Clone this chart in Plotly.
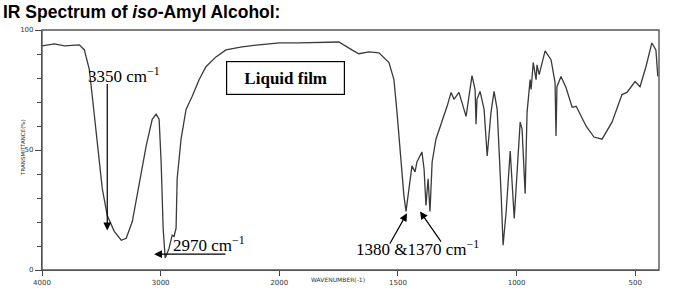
import plotly.graph_objects as go

# ---- data (wavenumber cm-1, % transmittance) ----
wavenumber = [4000, 3895, 3811, 3685, 3643, 3601, 3576, 3534, 3492, 3450, 3391, 3332, 3290,
              3239, 3181, 3122, 3071, 3038, 3013, 2996, 2979, 2962, 2945, 2929, 2903, 2887,
              2870, 2861, 2828, 2786, 2735, 2676, 2618, 2534, 2450, 2315, 2172, 2000,
              1918, 1749, 1694, 1665, 1622, 1580, 1538, 1517, 1504, 1487, 1475, 1466, 1453,
              1441, 1428, 1420, 1399, 1390, 1382, 1373, 1365, 1356, 1340, 1314, 1293, 1276,
              1264, 1243, 1213, 1188, 1175, 1171, 1167, 1154, 1137, 1124, 1108, 1095, 1082,
              1065, 1057, 1044, 1027, 1010, 985, 977, 964, 956, 943, 939, 930, 918, 914, 905,
              880, 855, 838, 834, 830, 813, 792, 766, 749, 707, 674, 640, 598, 556, 535, 501,
              480, 455, 430, 413, 405]
transmittance = [93.4, 94.2, 93.4, 93.8, 91.7, 83.5, 72.3, 51.7, 33.9, 22.7, 16.1, 12.4, 13.2,
                 20.2, 35.1, 51.7, 62.8, 64.9, 62.8, 45.0, 17.4, 5.0, 7.0, 9.1, 14.5, 14.0,
                 17.4, 38.0, 54.5, 66.9, 72.3, 79.3, 84.7, 88.8, 91.7, 93.0, 93.8, 94.6,
                 94.6, 95.0, 91.7, 90.1, 90.9, 90.5, 86.4, 79.3, 65.7, 45.0, 31.0, 24.4, 33.9,
                 43.4, 40.9, 45.0, 49.2, 42.1, 26.9, 38.0, 24.4, 45.0, 54.5, 61.6, 68.2, 74.0,
                 71.1, 74.0, 64.0, 81.0, 75.2, 60.7, 71.1, 74.4, 66.9, 47.5, 65.7, 74.4, 66.9,
                 31.0, 10.3, 24.4, 49.6, 21.5, 61.6, 58.7, 31.8, 65.7, 79.3, 75.2, 86.4, 79.3,
                 85.5, 81.4, 91.3, 87.6, 78.1, 55.8, 76.4, 80.6, 76.0, 67.8, 68.2, 59.9, 55.4,
                 54.5, 61.6, 73.1, 74.0, 78.5, 76.4, 84.7, 94.6, 91.7, 80.6]

x_labels_vals = [4000, 3000, 2000, 1500, 1000, 500]
x_minor_vals = [w for w in range(3900, 400, -100) if w not in x_labels_vals]
y_label_vals = [0, 50, 100]

title_text = "<b>IR Spectrum of <i>iso</i>-Amyl Alcohol:</b>"
x_title = "WAVENUMBER(-1)"
y_title = "TRANSMITTANCE(%)"


# The instrument chart uses the usual IR split scale: 4000-2000 cm-1 at half the
# scale of 2000-400 cm-1.  Map wavenumber to a linear display coordinate.
def xscale(w):
    return (4000 - w) / 1000 if w >= 2000 else 2 + (2000 - w) / 500


fig = go.Figure()
fig.add_trace(go.Scatter(x=[xscale(w) for w in wavenumber], y=transmittance, mode="lines",
                         line=dict(color="#3a3a3a", width=1.3), showlegend=False,
                         customdata=wavenumber,
                         hovertemplate="%{customdata} cm-1: %{y}%<extra></extra>"))

tickfont = dict(family="DejaVu Sans", size=7, color="#333")
xrange = [0, xscale(400)]

fig.update_layout(
    width=700, height=299,
    margin=dict(l=42, r=41, t=30, b=27),
    paper_bgcolor="white", plot_bgcolor="white",
    xaxis=dict(range=xrange, showline=True, linecolor="#444", linewidth=1.2,
               ticks="outside", ticklen=5, tickcolor="#444", tickwidth=1, tickfont=tickfont,
               showgrid=False, zeroline=False, tickmode="array",
               tickvals=[xscale(v) for v in x_labels_vals],
               ticktext=[str(v) for v in x_labels_vals]),
    # second x axis carrying only the unlabeled 100 cm-1 ticks
    xaxis2=dict(range=xrange, overlaying="x", side="bottom", anchor="y", showline=False,
                ticks="outside", ticklen=3, tickcolor="#444", tickwidth=1,
                showticklabels=False, showgrid=False, zeroline=False, tickmode="array",
                tickvals=[xscale(v) for v in x_minor_vals]),
    yaxis=dict(range=[0, 100], showline=True, linecolor="#444", linewidth=1.2,
               ticks="outside", ticklen=6, tickcolor="#444", tickmode="array",
               tickvals=y_label_vals, ticktext=[str(v) for v in y_label_vals],
               tickfont=tickfont, showgrid=False, zeroline=False,
               minor=dict(dtick=10, ticklen=4, tickcolor="#444", ticks="outside", showgrid=False)),
    title=dict(text=title_text, xref="container", yref="container", x=3 / 700,
               xanchor="left", y=1 - 12 / 299, yanchor="middle",
               font=dict(family="Liberation Sans, Arial", size=17.5, color="black")),
)

# frame (top and right edges)
fig.add_shape(type="rect", xref="paper", yref="paper", x0=0, x1=1, y0=0, y1=1,
              line=dict(color="#555", width=1.4), layer="above")

# axis titles
fig.add_annotation(text=x_title, xref="paper", yref="paper", x=0.48, y=-0.062,
                   showarrow=False, font=dict(family="DejaVu Sans", size=6, color="#333"))
fig.add_annotation(text=y_title, xref="paper", yref="paper", x=-0.04, y=0.51, textangle=-90,
                   showarrow=False, font=dict(family="DejaVu Sans", size=5.5, color="#333"))

serif = dict(family="Liberation Serif, Times New Roman", size=17, color="black")

# Liquid film boxed label
fig.add_annotation(text="<b>Liquid film</b>", xref="x", yref="y", x=xscale(1975), y=80,
                   showarrow=False, font=serif, width=113, height=28, align="center",
                   valign="middle", bordercolor="black", borderwidth=1.2, borderpad=2,
                   bgcolor="white")

# labels
fig.add_annotation(text="3350 cm<sup>−1</sup>", x=xscale(3307), y=81.4, showarrow=False, font=serif)
fig.add_annotation(text="2970 cm<sup>−1</sup>", x=xscale(2592), y=10.9, showarrow=False, font=serif)
fig.add_annotation(text="1380 &1370 cm<sup>−1</sup>", x=xscale(1416), y=9.1, showarrow=False, font=serif)

arrow = dict(showarrow=True, arrowhead=2, arrowsize=1.3, arrowwidth=1.2, arrowcolor="black",
             text="", standoff=0, startstandoff=0, xref="x", yref="y", axref="x", ayref="y")
for (tip_w, tip_t, tail_w, tail_t) in [(3450, 16.5, 3450, 78.1), (3055, 6.6, 2441, 6.6),
                                       (1462, 23.6, 1538, 10.3), (1407, 24.4, 1314, 11.2)]:
    fig.add_annotation(x=xscale(tip_w), y=tip_t, ax=xscale(tail_w), ay=tail_t, **arrow)

fig.write_html("out.html")
